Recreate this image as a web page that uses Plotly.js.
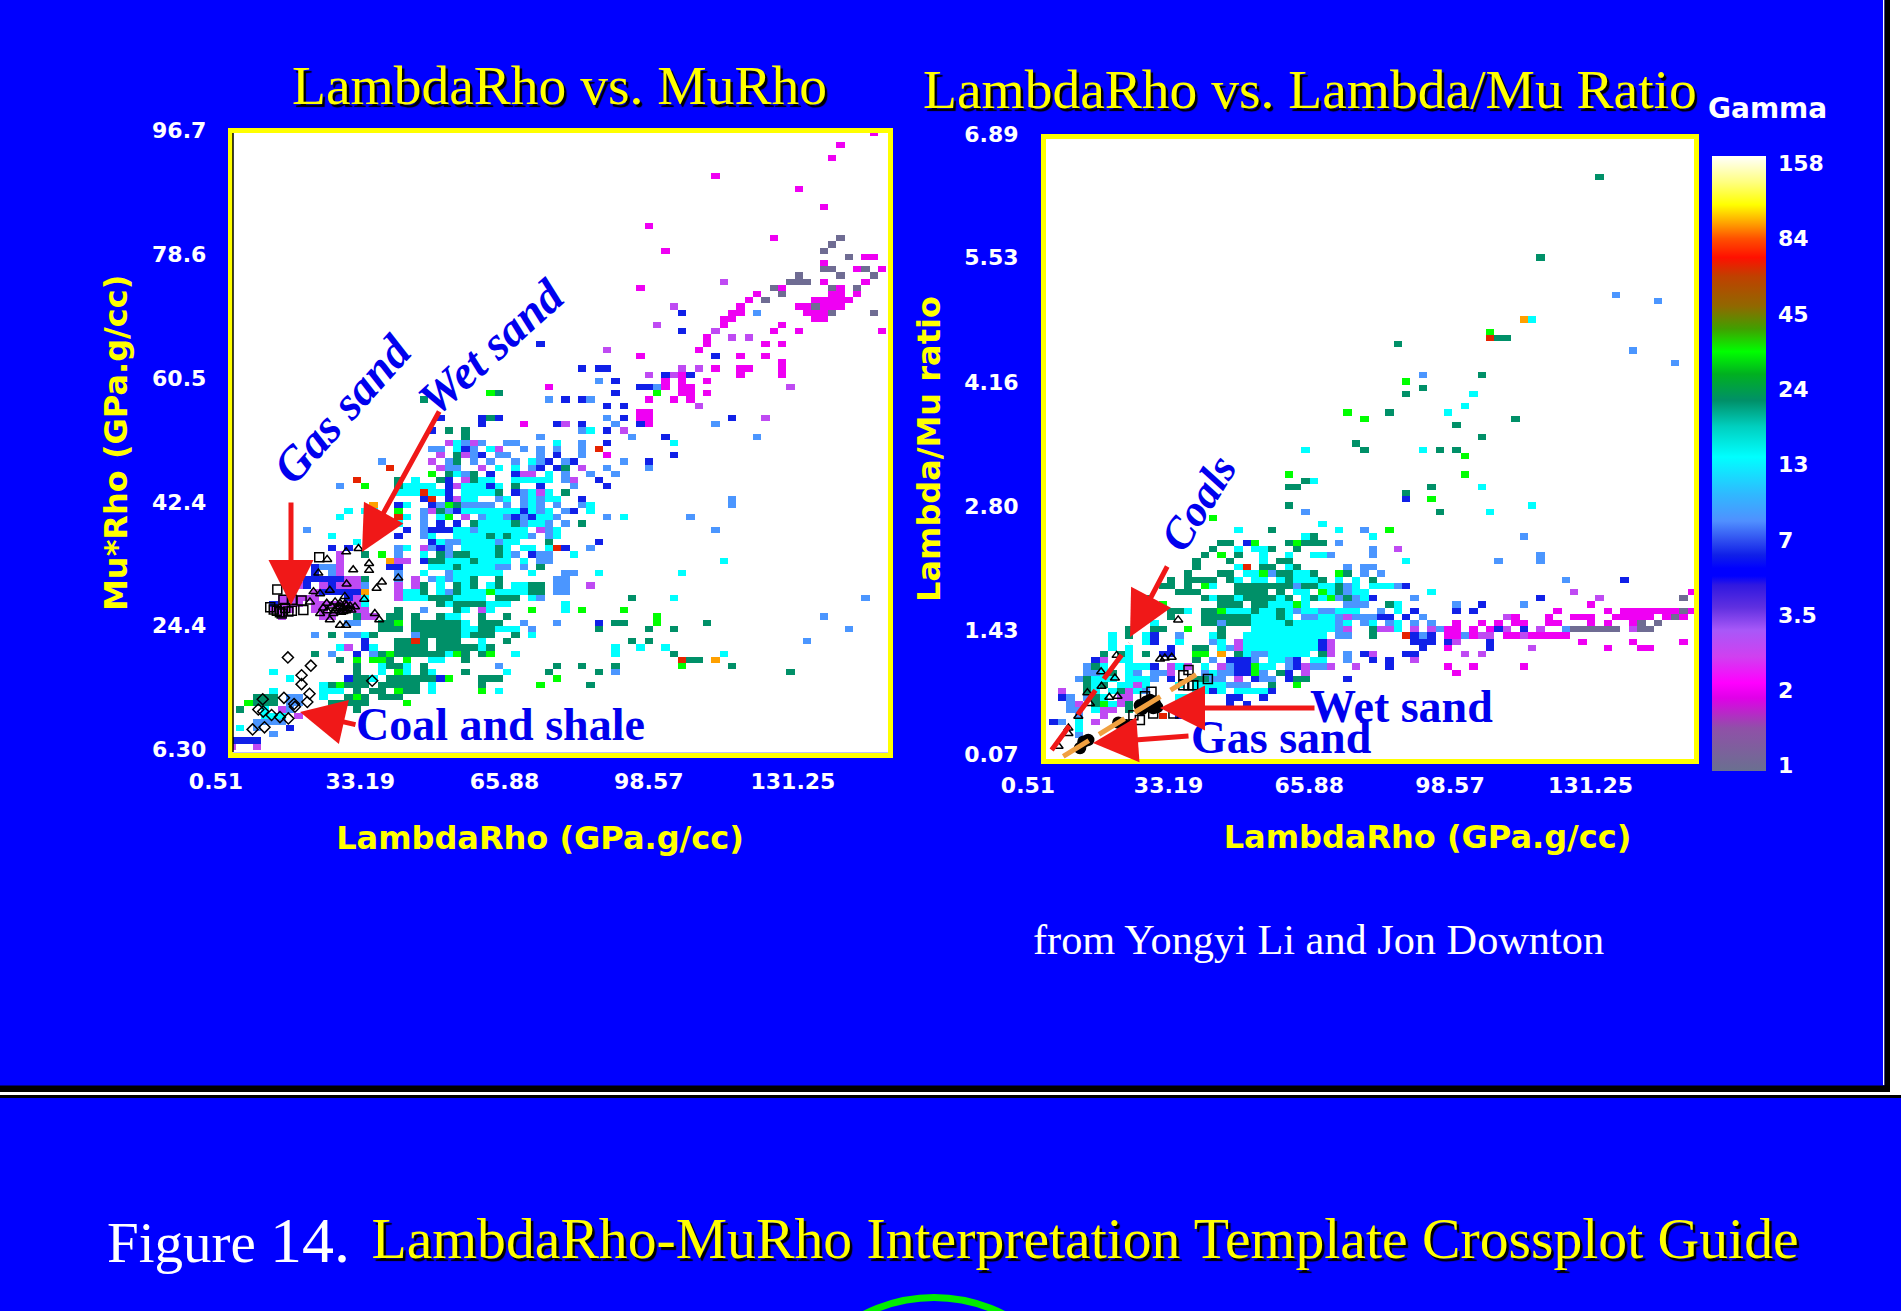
<!DOCTYPE html>
<html>
<head>
<meta charset="utf-8">
<script src="https://cdn.plot.ly/plotly-3.0.1.min.js"></script>
<style>html,body{margin:0;padding:0;background:#0000ff}</style>
</head>
<body>
<div id="chart" style="width:1901px;height:1311px"></div>
<script>
// gamma colour bar: tick labels, and colour stops along the bar (position in tick steps)
const gammaLabels = ['1', '2', '3.5', '7', '13', '24', '45', '84', '158']
const gammaTicks = [0, 1, 2, 3, 4, 5, 6, 7, 8]
const barStops = [-0.07, 0.5, 0.9, 1.1, 1.45, 1.8, 2.1, 2.4, 2.52, 2.62, 2.8, 3.0, 3.25, 3.6, 4.1, 4.5, 4.85, 5.2, 5.5, 5.8, 6.1, 6.5, 6.75, 7, 7.2, 7.45, 7.75, 8.097]
const barColors = ['#6a7090', '#9050a8', '#e000e8', '#ff00ff', '#d040f0', '#a858f8', '#6030e0', '#3018e0', '#0000ff', '#0000ff', '#1020e8', '#3050f0', '#5090ff', '#30b8ff', '#00ffff', '#00d0c0', '#009068', '#00b020', '#00ff00', '#40a000', '#906800', '#c04000', '#ff1000', '#ff5000', '#ffa000', '#ffff00', '#ffff80', '#ffffff']

// gamma class of a crossplot bin, as position on the colour bar
const gammaClass = {g: 0, m: 1, p: 1.6, b: 2.8, l: 3.3, c: 4.1, t: 4.85, G: 5.5, r: 6.65, o: 7.2}

const lambdaTicks = [0.51, 33.19, 65.88, 98.57, 131.25]
const lambdaText = ['0.51', '33.19', '65.88', '98.57', '131.25']
const muTicks = [6.3, 24.4, 42.4, 60.5, 78.6, 96.7]
const muText = ['6.30', '24.4', '42.4', '60.5', '78.6', '96.7']
const ratioTicks = [0.07, 1.43, 2.80, 4.16, 5.53, 6.89]
const ratioText = ['0.07', '1.43', '2.80', '4.16', '5.53', '6.89']

// left crossplot bins: [row, 'class+column(s)']
const muRows = [
[0,'m77'],[2,'m73'],[4,'m72'],[7,'m58'],[9,'m68'],[12,'m71'],[15,'m50'],[17,'m65 g73'],[18,'g72'],[19,'m52 g71'],
[20,'g74 m76-77'],[21,'m71'],[22,'g71-72 m75 g76 m78'],[23,'g68 g73 g77'],[24,'p59 g67-69 m71 m76'],
[25,'m49 g65 m66 g72 m73 g75'],[26,'m63 g66 m72-73 m75'],[27,'m62 g64 m70-74'],[28,'p53 m61 m68-69 g70 m71-73'],
[29,'b54 m60-61 l63 m69-71 g72 g77'],[30,'m59-60 m70-71'],[31,'p51 m59 m66'],[32,'b54 p58 m65 m68 m78'],
[33,'m57 p60 p62'],[34,'b37 m57 m64 m66'],[35,'p45 m56'],[36,'m49 b58 m61 m64'],[37,'m66'],
[38,'b42 b44-45 p54 p56 m58 m61-62 m66'],[39,'p50 b52 p53 m54 b55 m61 m66'],[40,'l44 b46 m52 m54 m57'],
[41,'m38 b49-50 l51 m52 m54-55 p67'],[42,'G31 t32 b46 G51 m54-55 m57'],[43,'t23 l38 b40 b42 l43 m50 m53 m55'],
[44,'b45 b47 p56'],[45,'m49-50'],[46,'b25 b30 t31 b32 l45 b47 m49-50 b60 p64'],
[47,'b30 m35 b39 p40 b42 l46 b49 m50 l58'],[48,'b24 t26 t28 l42 c43 b45 p47'],[49,'t28 l37 l48 b52 l63'],
[50,'p26 c27 l28 p29 l30 l33-34 c39 l42 b45 c53'],[51,'l24-25 c27 b28 l29 c31 p32 l35 l37 l39 l42 r44'],
[52,'p25 t27 p28 l29 b30 l32-33 l37 b39 l42 m45 b53'],[53,'l18 p24 l26 t27 l29 l31 l34 c36 l37 b38 l40 b41 l47 b50'],
[54,'r19 p25 l26-27 p30 c32 c34 l36 b37 b39 t40 p42 l45 l50'],[55,'G24 t26 c27 l28 t29 b31 b34 p35-36 c38 l40 l43 l46'],
[56,'r15 t20 c22 t25 b26 p28 t29 c30-31 c34-38 l40 p41 b44'],[57,'l13 G16 t20 c21-24 b26 p27 c28-30 b31 c32 t34 b37 l41 b45'],
[58,'c20-22 r23 c24-25 b26 c28-31 t32 b34 l35 c36 p37 c38 t40'],[59,'b23 r24 b26 p27 c28-29 l32 c33 l35 c36 l37 c38-39 b42 l60'],
[60,'o17 b20 c21 b24 l25 G26 t27 l28-31 l33 l35 c36 l37 l39 l42 c43 l60'],
[61,'c14 c16-17 G20 l23 p24 t25 l26 b27 c28-34 b35 c36 l37 c38 l40 b41 c43'],
[62,'c13 c17 r20 c21 l23 c25 G26 p28 l30 c31-32 l33 b34 l35 b36 c37-38 l39 l45 c47 l55'],
[63,'c20 l23 b25 b27 t29 c30-33 t34 l35 c36-37 l38 l40 t42'],[64,'l9 b21 l23 b24-26 c27-28 l29 c30-35 p37 l38 c39 l58'],
[65,'c12 b20 l23 c24 c27-30 t31 c32 t33 c34-35 l36 l38 c39'],[66,'c15 b24 c25 l26-27 c28-31 l32 c33-34 t38 b44'],
[67,'b12 b14 l20 c21 p23 l24 b25 l26 c28-31 t32 c33 c35-36 c38 r39 b40 l43'],
[68,'p13 t16 G18 l20 c23 t25 l26 t27-28 c29-31 t32 c33 l34 b36 l37-38 c41'],
[69,'p13 o19 p20-21 b23 t24-25 c26-28 t29 c30-33 c35 l37-38 c59'],[70,'b10 l11-12 p13 b19-20 c24-26 t27 c28-31 l32-33 l35 t37'],
[71,'b10 l12 p13 l20 c23 l26 c27-32 c36 l40-41 c44 c54'],[72,'b9-13 p14-15 t16 l20 p22 l24 c25 l26 c27-28 t29 t32 l39-40'],
[73,'p8 b9 p11 b12 p13-15 l16 p20 p22 t23 c25 t27 c28 t29 c31 t32 c34-35 t36-37 l39-40 p43'],
[74,'p10 b11-15 o16 p20 c21-22 t23 c25 l26 t27 c28-30 G31 c32-35 t36-37 l39-40'],
[75,'p6-10 b14 p15 c16 p20 c21-23 t24-26 c27-30 t32-34 c36 l37 t48 c53 l76'],
[76,'b5 p6-8 p10-15 c16 t25 c26 t27-30 c31-33 c40'],[77,'p5-7 p10-11 p13-16 t20 l23 t27 c28 p30 c31 G36 c40 G42 G47'],
[78,'p6 p11-12 t15 p16-17 t19-20 t22 t25 c26-27 t30 t33 G51 l71'],[79,'l14-15 t18-19 G20 t22-27 c28 t30-32 l35 l39 b44 t46-47 G51 t57'],
[80,'t18-20 t22-27 c28-29 t30-31 c32-34 l36 t44 t50 t53 l74'],[81,'l10 t12 l14-15 c16 t17 l22 t23-27 c28 t29-31 t34 c36'],
[82,'b16 t20-21 r22 t23 t25-27 c30 t33 t48 t50 l69'],[83,'c13 p14 b16 c17 t20-23 t25-29 c30 t31 c46 c49 c52'],
[84,'t10 l12 b15 l17 t18 G19 t20-25 c26 G27 t28 t30 G31 c34 c46 t53 c59'],[85,'t13 G15 G17-18 t19 G21 c24-25 t28 r54 t55-56 o58'],
[86,'t15 c18 t19-20 c21 t23 l32 t39 t42 t46 G54 t60'],[87,'c5 t15 c18 G20 c21 t23 c24 t28 c33 t38 t44 l46 t67'],
[88,'c7 b14 t15-16 c17 t19-24 b25 G26 t30-32 G39'],[89,'c11 t12 G13 t14-16 t18-22 c24 t30 G37 t43'],
[90,'c5 c11-13 t15 t17-18 G20 t21-22 c24 G30 c32'],[91,'t3-5 l7-8 c11 t14 G15 t16 t18-20'],[92,'G2 t3-5 l7-8 t12-16 G21'],
[93,'t1 c4 p6 l7 t15'],[94,'c4-6 p8'],[95,'l3-6'],[96,'c1 l3 b7'],[97,'l5'],[98,'b0-3'],[99,'p0 p3']
]

// right crossplot bins
const ratioRows = [
[6,'t66'],[19,'t59'],[25,'l68'],[26,'l73'],[29,'o57 c58'],[31,'G53'],[32,'r53 t54-55'],[33,'t42'],[34,'l70'],[36,'l75'],
[38,'l45 t52'],[39,'G43'],[40,'t45'],[41,'t43 c51'],[43,'c50'],[44,'G36 t41 c48'],[45,'G38 t56'],[46,'t49'],[48,'t52'],
[49,'t37'],[50,'c31 t38 c45 t47 t49'],[51,'G50'],[54,'G29 G50'],[55,'t31 c32'],[56,'t29-30 t46 c52'],[57,'t43'],
[58,'b43 G46'],[59,'t29 c58'],[60,'l31 t47 c53'],[61,'G20'],[62,'c33'],[63,'c23 t27 c35 l38 G41'],[64,'c31 t32 c39 l57'],
[65,'t21-22 b24 G25 t29 G30 t31-33 l35'],[66,'t20 c23 c25-26 t27 t30 l39 p42'],[67,'t19 G21 t23 c26 c29 c32-33 l34 l39 l59'],
[68,'t18 t22 c26 t28-29 c43 l54 l59'],[69,'t18 c23 r24 t26-27 c29 t30 l36 l38-39'],
[70,'t17 t21-22 c24-25 G26 l27 t28-29 c30-31 t32 G35 t36 l38 l40'],
[71,'t15 t17-20 t22 c23 c25-26 c28 t29 c30-32 t33 c35 c37 t39 l62 b69'],
[72,'t14-15 t17 G19 c20 t23-29 l30 t31-32 c33-34 t35 l36 c37 c39-41 l42 b43'],
[73,'t16-18 t23-26 t28 c30-31 G33 c34 t35 l36 c37-38 c46 p63 m77'],
[74,'t12 t19 c20 t21-22 c23 t24-27 c28 t29 c31 t32 c33 G34 l35 t36 l37 c38 b39 l44 b59 p66 g76'],
[75,'c11 G14 t21-23 t25-26 c27-29 G30 c31 l36-38 t41 c42 l49 b52 l57 m65'],
[76,'t13 t15-16 c17 t19-20 G21 c22-24 t25 c26-27 t28 c29 l30 c31-32 l33-34 c35-37 l40 c42 b44 b49 b51 m61 m67 m69-75 g76 m77'],
[77,'t15 t19-24 c25-27 t28 c29 l31-32 c33-34 l35 p36 l37-39 b40-41 b43 l45 p55 m56 m60 m63-65 m68-72 m74 g75 m76'],
[78,'c13 t19-20 l21 t22-24 c25-28 t29 c30-34 l35 c36 l38 c39 l41 c42 l44 l46 m49 m52 m54 m56-57 m60-61 m65 m67 m70 g71 g73'],
[79,'t10 t13-14 G17 t21 c25-34 l35 p36 t39 p40-41 c42 p44 p46 l47 m48-49 m51 m53 b54 p55 b57 p59 l62 g63-68 p70 g71-72'],
[80,'c8 t10 c12 b13 l16 c20 t21 c24-33 l35-36 t39 r43 b44 l45 b46 m48-49 l50 m51 p52-53 m55-56 p57 m58-62'],
[81,'c8 c12 b13 c16 l20 c21 p23 c24-32 b33 p34 b44-46 b48 p49 b53 m64 m70 m76'],
[82,'c8 c10 b15 t18-19 c21 l22 p23 c24-32 b33 p34 b45 m48 b53 p58 m67 m71-72'],
[83,'t7 t9 c10 t12 b14-15 G18-19 o21 t23 c24 l25-26 c27-31 t33 p34 l36 b38 p39 b43-44 p50 p52'],
[84,'b6 p7 c9-10 t18 l20 b22-24 l25 c27-28 l29 b30 c32-33 l36 b39 b41 p44'],
[85,'l5 t6 c7 c10-12 b13 p15 c16 p17 c19 p21 l22 b23-24 G25 c26-27 l29 b30 p31 l32-33 p34 p37 b41 m48 m51 m57'],
[86,'l5-6 c7 t8 c10 l11 l13-14 p15 l19 c20 l21-22 b23-24 G25 l26 t28 b29 p31 m49'],
[87,'l4 t5 c6-8 c10-12 l13 b15 t18-19 l20-21 p23 b25 l26-27 b29 t30-31 b36'],
[88,'t5 c6 t7 c9-10 p11 c12 c16 c18-21 l22-24 t27 G30'],
[89,'p2 t5 c6 c8 t9 p10 c11 l12 c18-19 b20 c21 c23-26 b27'],
[90,'b2 l3 l5 t6 c7 p9-10 c16-17 b22-23 b26'],[91,'l3 p4 t6 G7 c8 p9 t10 b12 t16 b22 b24'],[92,'l3-4 c6 p7-8 t10 b16'],
[93,'l4 p7 r14 b16'],[94,'b1 l2 c4 p6'],[95,'c4'],[96,'l4'],[97,'p5']
]

// well log points on the left plot
const gasLambda = [14.4, 15.8, 17.7, 19.9, 12.8, 14.3, 15.4, 16.9, 17.7, 20.3, 23.9, 13.6, 15.0, 16.2]
const gasMu = [30.1, 28.6, 28.6, 28.5, 27.5, 27.0, 26.6, 26.9, 27.0, 27.1, 34.8, 27.2, 26.8, 27.4]
const wetLambda = [30.0, 32.8, 25.7, 23.7, 31.6, 35.2, 35.2, 41.8, 38.1, 30.1, 36.9, 22.6, 26.3, 24.1, 29.7, 27.5, 34.1, 24.8, 27.1, 29.4, 24.1, 32.0, 30.1, 36.5, 37.5, 28.6, 30.0, 26.3, 21.8, 25.6, 28.6, 28.6, 29.7, 30.9, 26.7, 28.0, 29.2, 30.4, 31.2, 27.3, 28.9, 30.0, 25.7]
const wetMu = [35.6, 36.1, 34.5, 32.5, 33.0, 33.9, 32.9, 31.8, 31.2, 30.9, 30.3, 29.8, 30.0, 29.5, 29.1, 28.3, 28.7, 27.4, 26.6, 26.9, 26.6, 27.6, 27.8, 26.6, 25.7, 24.9, 24.9, 25.7, 28.3, 28.1, 28.1, 27.6, 28.0, 27.7, 27.7, 27.3, 27.4, 27.3, 27.1, 27.0, 26.8, 27.0, 27.0]
const coalLambda = [16.8, 22.0, 19.9, 19.9, 35.9, 21.7, 21.2, 11.1, 15.9, 18.2, 18.4, 10.1, 11.2, 13.1, 15.0, 16.9, 8.8, 11.5]
const coalMu = [20.2, 19.0, 17.6, 16.3, 16.8, 14.9, 13.7, 14.1, 14.3, 13.4, 13.0, 12.6, 12.3, 11.8, 11.5, 11.3, 9.7, 10.0]

// well log points on the right plot
const coalRatioLambda = [35.4, 21.1, 32.3, 31.2, 33.9, 17.5, 20.7, 17.6, 14.3, 21.3, 19.4, 14.9, 12.2, 9.9, 9.9, 7.6]
const coalRatio = [1.60, 1.21, 1.18, 1.17, 1.19, 1.03, 0.96, 0.87, 0.80, 0.76, 0.75, 0.68, 0.54, 0.41, 0.35, 0.21]
const sandRatioLambda = [37.8, 36.6, 42.3, 37.8, 38.9, 36.6, 29.2, 27.7, 29.6, 26.5, 25.0, 37.0, 34.3]
const sandRatio = [1.05, 0.99, 0.95, 0.88, 0.88, 0.88, 0.81, 0.76, 0.57, 0.50, 0.55, 0.68, 0.57]
const blackLambda = [27.7, 28.9, 30.0, 28.5, 26.5, 29.6, 28.9, 21.5, 23.4, 14.5, 12.6, 13.4, 28.0, 29.3, 30.5, 27.0]
const blackRatio = [0.68, 0.72, 0.68, 0.65, 0.66, 0.63, 0.66, 0.47, 0.44, 0.28, 0.19, 0.26, 0.70, 0.70, 0.64, 0.62]

// trend lines on the right plot
const coalTrendLambda = [6.0, 24.2]
const coalTrendRatio = [0.17, 1.34]
const sandTrendLambda = [8.7, 42.0]
const sandTrendRatio = [0.10, 1.07]

const W = 1901
const H = 1311
const fx = (x) => x / W
const fy = (y) => 1 - y / H

const buildGrid = (rows, cols) => {
    const z = []
    for (let r = 0; r <= 100; r++) z.push(new Array(cols).fill(null))
    rows.forEach(([r, text]) => {
        text.split(' ').forEach((tok) => {
            const m = tok.match(/^([a-zA-Z])(\d+)(?:-(\d+))?$/)
            const end = m[3] ? +m[3] : +m[2]
            for (let c = +m[2]; c <= end; c++) z[r][c] = gammaClass[m[1]]
        })
    })
    return z
}

// rounding keeps the stops inside 0..1, plotly drops the scale otherwise
const colorscale = barStops.map((p, i) => [Math.round((p + 0.07) / 8.167 * 10000) / 10000, barColors[i]])

const points = (x, y, xa, ya, symbol, size) => ({
    x: x, y: y, xaxis: xa, yaxis: ya, type: 'scatter', mode: 'markers', hoverinfo: 'skip',
    marker: {symbol: symbol, size: size, color: '#000', line: {color: '#000', width: 1.5}}
})
const trend = (x, y, color, dash) => ({
    x: x, y: y, xaxis: 'x2', yaxis: 'y2', type: 'scatter', mode: 'lines', hoverinfo: 'skip',
    line: {color: color, width: 5, dash: dash}
})
const emptyAxes = (xa, ya) => ({x: [], y: [], xaxis: xa, yaxis: ya, type: 'scatter', hoverinfo: 'skip'})

const data = [
    {type: 'heatmap', z: buildGrid(muRows, 80), x0: 4.113, dx: 1.888, y0: 96.7, dy: -0.904, coloraxis: 'coloraxis', xaxis: 'x', yaxis: 'y', zsmooth: false},
    {type: 'heatmap', z: buildGrid(ratioRows, 78), x0: 4.506, dx: 1.952, y0: 6.882, dy: -0.0682, coloraxis: 'coloraxis', xaxis: 'x2', yaxis: 'y2', zsmooth: false},
    points(gasLambda, gasMu, 'x', 'y', 'square-open', 9),
    points(wetLambda, wetMu, 'x', 'y', 'triangle-up-open', 8),
    points(coalLambda, coalMu, 'x', 'y', 'diamond-open', 8.5),
    points(coalRatioLambda, coalRatio, 'x2', 'y2', 'triangle-up-open', 8),
    points(sandRatioLambda, sandRatio, 'x2', 'y2', 'square-open', 9),
    points(blackLambda, blackRatio, 'x2', 'y2', 'circle', 11),
    trend(coalTrendLambda, coalTrendRatio, '#f01818', '30px,14px'),
    trend(sandTrendLambda, sandTrendRatio, '#f0a040', '30px,12px'),
    emptyAxes('x3', 'y3'),
    emptyAxes('x4', 'y4')
]

const tickFont = {family: 'DejaVu Sans', size: 22, color: '#fff', weight: 'bold'}
const titleFont = {family: 'DejaVu Sans', size: 32, color: '#ffff00', weight: 'bold'}
const frame = {showline: true, mirror: true, linecolor: '#ffff00', linewidth: 5, showgrid: false, zeroline: false, layer: 'above traces'}

const text = (t, x, y, size, color, extra) => Object.assign({
    text: t, x: fx(x), y: fy(y), xref: 'paper', yref: 'paper', xanchor: 'center', yanchor: 'middle', showarrow: false,
    font: {family: 'Liberation Serif', size: size, color: color}
}, extra || {})
const shadow = {family: 'Liberation Serif', size: 55.5, color: '#ffff00', shadow: '2.5px 2.5px 1px #000'}
const arrow = (tx, ty, hx, hy) => ({
    text: '', x: fx(hx), y: fy(hy), xref: 'paper', yref: 'paper', showarrow: true, ax: tx - hx, ay: ty - hy,
    arrowcolor: '#f01818', arrowwidth: 5, arrowhead: 2, arrowsize: 1.8
})
const box = (x0, y0, x1, y1, color) => ({
    type: 'rect', xref: 'paper', yref: 'paper', x0: fx(x0), y0: fy(y0), x1: fx(x1), y1: fy(y1),
    fillcolor: color, line: {width: 0}
})
const whiteBg = (xa, ya) => ({
    type: 'rect', xref: xa + ' domain', yref: ya + ' domain', x0: 0, x1: 1, y0: 0, y1: 1,
    fillcolor: '#fff', line: {width: 0}, layer: 'below'
})

const layout = {
    width: W, height: H,
    margin: {l: 0, r: 0, t: 0, b: 0},
    paper_bgcolor: '#0000ff',
    plot_bgcolor: 'rgba(0,0,0,0)',
    showlegend: false,
    title: {
        text: 'LambdaRho-MuRho Interpretation Template Crossplot Guide',
        font: {family: 'Liberation Serif', size: 57.7, color: '#ffff00', shadow: '2.5px 3px 1px #000'},
        x: fx(1085), xanchor: 'center', xref: 'paper',
        y: fy(1238), yanchor: 'middle', yref: 'paper'
    },
    // data axes, drawn as the yellow frames
    xaxis: Object.assign({}, frame, {domain: [fx(232.7), fx(888)], range: [4.294, 152.78], anchor: 'y', showticklabels: false, ticks: ''}),
    yaxis: Object.assign({}, frame, {
        domain: [fy(752.7), fy(133)], range: [6.3, 96.7], anchor: 'x',
        tickvals: muTicks, ticktext: muText, tickfont: tickFont, ticks: '', ticklabelstandoff: 17, ticklabelshift: -3,
        title: {text: 'Mu*Rho (GPa.g/cc)', font: titleFont, standoff: 16}
    }),
    xaxis2: Object.assign({}, frame, {domain: [fx(1046), fx(1694)], range: [4.69, 155.25], anchor: 'y2', showticklabels: false, ticks: ''}),
    yaxis2: Object.assign({}, frame, {
        domain: [fy(759), fy(139)], range: [0.07, 6.89], anchor: 'x2',
        tickvals: ratioTicks, ticktext: ratioText, tickfont: tickFont, ticks: '', ticklabelstandoff: 18, ticklabelshift: -5,
        title: {text: 'Lambda/Mu ratio', font: titleFont, standoff: 16}
    }),
    // label axes: they start at the 0.51 label, left of the frame
    xaxis3: {
        domain: [fx(216), fx(864)], range: [0.51, 147.35], anchor: 'y3', showline: false, showgrid: false, zeroline: false, ticks: '',
        tickvals: lambdaTicks, ticktext: lambdaText, tickfont: tickFont, ticklabelstandoff: 5,
        title: {text: 'LambdaRho (GPa.g/cc)', font: titleFont, standoff: 33}
    },
    yaxis3: {domain: [fy(761), fy(757)], anchor: 'x3', visible: false},
    xaxis4: {
        domain: [fx(1028), fx(1827)], range: [0.51, 186.2], anchor: 'y4', showline: false, showgrid: false, zeroline: false, ticks: '',
        tickvals: lambdaTicks, ticktext: lambdaText, tickfont: tickFont, ticklabelstandoff: 5,
        title: {text: 'LambdaRho (GPa.g/cc)', font: titleFont, standoff: 28}
    },
    yaxis4: {domain: [fy(765), fy(761)], anchor: 'x4', visible: false},
    coloraxis: {
        cmin: -0.07, cmax: 8.097, colorscale: colorscale,
        colorbar: {
            x: fx(1712), xanchor: 'left', xpad: 0, thickness: 54,
            y: fy(156), yanchor: 'top', ypad: 0, len: 615 / H, lenmode: 'fraction',
            outlinewidth: 0, borderwidth: 0,
            tickvals: gammaTicks, ticktext: gammaLabels, tickfont: tickFont,
            ticks: 'outside', ticklen: 8, tickcolor: 'rgba(0,0,0,0)'
        }
    },
    annotations: [
        text('LambdaRho vs. MuRho', 559.5, 85, 55.5, '#ffff00', {font: shadow}),
        text('LambdaRho vs. Lambda/Mu Ratio', 1310, 89, 55.5, '#ffff00', {font: shadow}),
        text('Gamma', 1767, 109, 28, '#fff', {font: {family: 'DejaVu Sans', size: 28, color: '#fff', weight: 'bold'}}),
        text('from Yongyi Li and Jon Downton', 1318, 939, 42.3, '#fff'),
        text('Figure <span style="font-size:64px">14.</span>', 228, 1240, 57, '#fff'),
        text('<b><i>Gas sand</i></b>', 342, 409, 47, '#0000ee', {textangle: -48}),
        text('<b><i>Wet sand</i></b>', 491, 347, 47, '#0000ee', {textangle: -42}),
        text('<b>Coal and shale</b>', 500, 724, 46, '#0000ee'),
        text('<b><i>Coals</i></b>', 1198, 503, 44, '#0000ee', {textangle: -58}),
        text('<b>Wet sand</b>', 1401, 706, 46, '#0000ee'),
        text('<b>Gas sand</b>', 1281, 737, 46, '#0000ee'),
        arrow(291, 501, 291, 605),
        arrow(440, 410, 362, 552),
        arrow(357, 725, 300, 712),
        arrow(1168, 565, 1130, 637),
        arrow(1316, 708, 1160, 708),
        arrow(1190, 736, 1093, 743)
    ],
    shapes: [
        whiteBg('x', 'y'),
        whiteBg('x2', 'y2'),
        {type: 'line', xref: 'paper', yref: 'paper', x0: fx(233), x1: fx(233), y0: fy(133), y1: fy(752), line: {color: '#000', width: 1.5}},
        box(1883, 0, 1884.5, 1085, '#fff'),
        box(1884.5, 0, 1890, 1092, '#000'),
        box(1890, 0, 1901, 1092, '#fff'),
        box(0, 1085.5, 1890, 1092, '#000'),
        box(0, 1092, 1901, 1095, '#fff'),
        box(0, 1095, 1901, 1098, '#000'),
        {type: 'circle', xref: 'paper', yref: 'paper', x0: fx(780.5), x1: fx(1087.5), y0: fy(1297.5), y1: fy(1604.5), line: {color: '#00ee00', width: 7}}
    ]
}

Plotly.newPlot('chart', data, layout, {responsive: false, displayModeBar: false})
</script>
</body>
</html>
